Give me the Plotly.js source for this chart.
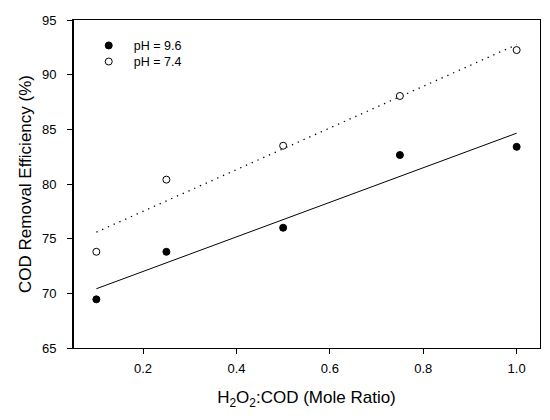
<!DOCTYPE html>
<html>
<head>
<meta charset="utf-8">
<script src="https://cdn.plot.ly/plotly-3.0.1.min.js"></script>
<style>
  body { margin: 0; background: #fff; }
  #chart { width: 550px; height: 420px; }
</style>
</head>
<body>
<div id="chart"></div>
<script>
// mole ratio H2O2:COD
var ratio = [0.1, 0.25, 0.5, 0.75, 1.0];
// COD removal (%)
var ph96 = [69.45, 73.8, 76.0, 82.65, 83.4];
var ph74 = [73.8, 80.4, 83.5, 88.05, 92.25];

var xTicks = [0.2, 0.4, 0.6, 0.8, 1.0];
var xTickText = ['0.2', '0.4', '0.6', '0.8', '1.0'];

// simple least squares fit, returns y at first and last x
const fitLine = (xs, ys) => {
    var n = xs.length;
    var mx = xs.reduce((a, b) => a + b, 0) / n;
    var my = ys.reduce((a, b) => a + b, 0) / n;
    var sxx = 0, sxy = 0;
    for (var i = 0; i < n; i++) {
        sxx += (xs[i] - mx) * (xs[i] - mx);
        sxy += (xs[i] - mx) * (ys[i] - my);
    }
    var b = sxy / sxx;
    var a = my - b * mx;
    var ends = [xs[0], xs[n - 1]];
    return { x: ends, y: ends.map(v => a + b * v) };
}

var fit96 = fitLine(ratio, ph96);
var fit74 = fitLine(ratio, ph74);

var data = [
    {
        x: fit96.x, y: fit96.y, mode: 'lines', type: 'scatter',
        line: { color: '#000', width: 1 }, showlegend: false, hoverinfo: 'skip'
    },
    {
        x: fit74.x, y: fit74.y, mode: 'lines', type: 'scatter',
        line: { color: '#000', width: 1.3, dash: '1.3px,5px' }, showlegend: false, hoverinfo: 'skip'
    },
    {
        x: ratio, y: ph96, mode: 'markers', type: 'scatter', name: 'pH = 9.6',
        legend: 'legend',
        marker: { symbol: 'circle', size: 7, color: '#000', line: { color: '#000', width: 1 } }
    },
    {
        x: ratio, y: ph74, mode: 'markers', type: 'scatter', name: 'pH = 7.4',
        legend: 'legend2',
        marker: { symbol: 'circle', size: 7, color: '#fff', line: { color: '#000', width: 1 } }
    }
];

var legendBase = {
    xanchor: 'left', yanchor: 'top',
    bgcolor: 'rgba(0,0,0,0)',
    font: { size: 12.5 },
    itemwidth: 40
};

var layout = {
    width: 550,
    height: 420,
    margin: { l: 73, r: 10, t: 20, b: 72 },
    paper_bgcolor: '#fff',
    plot_bgcolor: '#fff',
    font: { family: 'Liberation Sans, Arial, sans-serif', color: '#000', size: 13 },
    showlegend: true,
    legend: Object.assign({ x: 0.023, y: 0.967 }, legendBase),
    legend2: Object.assign({ x: 0.023, y: 0.918 }, legendBase),
    xaxis: {
        range: [0.05, 1.05],
        tickvals: xTicks,
        ticktext: xTickText,
        ticks: 'outside', ticklen: 5, tickwidth: 1, tickcolor: '#000',
        ticklabelstandoff: 3,
        showline: true, linecolor: '#000', linewidth: 1, mirror: true,
        showgrid: false, zeroline: false,
        tickfont: { size: 13 },
        title: { text: 'H<sub>2</sub>O<sub>2</sub>:COD (Mole Ratio)', font: { size: 17 }, standoff: 16 }
    },
    yaxis: {
        range: [65, 95],
        dtick: 5,
        tick0: 65,
        ticks: 'outside', ticklen: 5, tickwidth: 1, tickcolor: '#000',
        ticklabelstandoff: 8,
        showline: true, linecolor: '#000', linewidth: 1, mirror: true,
        showgrid: false, zeroline: false,
        tickfont: { size: 13 },
        title: { text: 'COD Removal Efficiency (%)', font: { size: 17 }, standoff: 5 }
    },
    shapes: [
        // heavier left axis line, as in the original figure
        { type: 'line', xref: 'paper', yref: 'paper', x0: 0, x1: 0, y0: 0, y1: 1,
          line: { color: '#000', width: 2 } }
    ]
};

Plotly.newPlot('chart', data, layout, { displayModeBar: false, staticPlot: true });
</script>
</body>
</html>
